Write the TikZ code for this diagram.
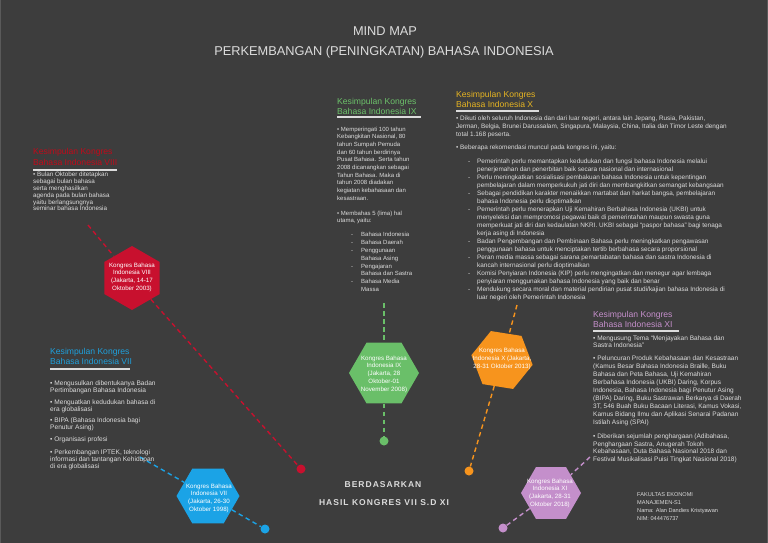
\documentclass[tikz,border=0pt]{standalone}
\usepackage{fontspec}
\setmainfont{Liberation Sans}
\usetikzlibrary{shapes.geometric}
\definecolor{bg}{HTML}{3D3D3D}
\definecolor{txt}{HTML}{DCDCDC}
\definecolor{hred}{HTML}{C8102E}
\definecolor{hgreen}{HTML}{6ABF69}
\definecolor{horange}{HTML}{F7941D}
\definecolor{hcyan}{HTML}{1BA3E6}
\definecolor{hpurple}{HTML}{C48FCB}
\definecolor{tred}{HTML}{C00A1A}
\definecolor{tgreen}{HTML}{6CC16A}
\definecolor{tyellow}{HTML}{E6B422}
\definecolor{tcyan}{HTML}{1EA0DC}
\definecolor{tpurple}{HTML}{C58FCB}
\definecolor{edge}{HTML}{5A5A5A}
\begin{document}
\begin{tikzpicture}[x=1pt,y=-1pt,
  bigtitle/.style={inner sep=0, text=txt, font=\fontsize{12.8}{14}\selectfont},
  ttl/.style={anchor=north west, inner sep=0, align=left, font=\fontsize{8.6}{10}\selectfont},
  body/.style={anchor=north west, inner sep=0, align=left, text=txt, font=\fontsize{6}{7.7}\selectfont},
  uline/.style={draw=txt, line width=1.2pt},
  hexa/.style={regular polygon, regular polygon sides=6, inner sep=0, draw=none, minimum size=#1},
  hextext/.style={inner sep=0, align=center, text=white, font=\fontsize{6.2}{7.7}\selectfont},
  dot/.style={circle, inner sep=0, minimum size=9pt},
  dline/.style={line width=1.4pt, dash pattern=on 4.5pt off 3.5pt},
  bottomtxt/.style={inner sep=0, text=txt, font=\fontsize{8.5}{10}\bfseries\addfontfeatures{LetterSpace=12}\selectfont}
]
\fill[bg] (0,0) rectangle (768,543);
\useasboundingbox (0,0) rectangle (768,543);
\draw[edge, line width=1pt] (0.5,0) -- (0.5,543) (767.5,0) -- (767.5,543);

% titles
\node[bigtitle] (t1) at (385,31) {MIND MAP};
\node[bigtitle] (t2) at (384,52) {PERKEMBANGAN (PENINGKATAN) BAHASA INDONESIA};

% hexagons and dots
\node[hexa=64pt, fill=hred, shape border rotate=30] (hexR) at (132,278) {};
\node[hexa=70pt, fill=hgreen] (hexG) at (384,373) {};
\node[hexa=62pt, fill=horange, shape border rotate=-9] (hexO) at (502,360) {};
\node[hexa=63pt, fill=hcyan] (hexC) at (208,496) {};
\node[hexa=60pt, fill=hpurple] (hexP) at (551,493) {};

\node[dot, fill=hred] (dotR) at (301,469) {};
\node[dot, fill=hgreen] (dotG) at (384,441) {};
\node[dot, fill=horange] (dotO) at (469,471) {};
\node[dot, fill=hcyan] (dotC) at (265,529) {};
\node[dot, fill=hpurple] (dotP) at (503,528) {};

\coordinate (sR) at (88,225);
\coordinate (sG) at (384,303);
\coordinate (sO) at (517,305);
\coordinate (sC) at (140,457);
\coordinate (sP) at (590,457);

\draw[dline, hred] (sR) -- (hexR);
\draw[dline, hred] (hexR) -- (dotR);
\draw[dline, hgreen] (sG) -- (hexG);
\draw[dline, hgreen] (hexG) -- (dotG);
\draw[dline, horange] (sO) -- (hexO);
\draw[dline, horange] (hexO) -- (dotO);
\draw[dline, hcyan] (sC) -- (hexC);
\draw[dline, hcyan] (hexC) -- (dotC);
\draw[dline, hpurple] (sP) -- (hexP);
\draw[dline, hpurple] (hexP) -- (dotP);

\node[hextext] (hexRt) at (132,277) {Kongres Bahasa\\Indonesia VIII\\(Jakarta, 14-17\\Oktober 2003)};
\node[hextext] (hexGt) at (384,374) {Kongres Bahasa\\Indonesia IX\\(Jakarta, 28\\Oktober-01\\November 2008)};
\node[hextext] (hexOt) at (502,359) {Kongres Bahasa\\Indonesia X (Jakarta,\\28-31 Oktober 2013)};
\node[hextext] (hexCt) at (209,498) {Kongres Bahasa\\Indonesia VII\\(Jakarta, 26-30\\Oktober 1998)};
\node[hextext] (hexPt) at (550,493) {Kongres Bahasa\\Indonesia XI\\(Jakarta, 28-31\\Oktober 2018)};

% VIII block
\node[ttl, text=tred, font=\fontsize{8.6}{10.5}\selectfont] (h8) at (33,148.5) {Kesimpulan Kongres\\Bahasa Indonesia VIII};
\draw[uline] (33,170) -- (117,170);
\node[body, font=\fontsize{6.3}{6.9}\selectfont] (b8) at (33,171.7) {• Bulan Oktober ditetapkan\\sebagai bulan bahasa\\serta menghasilkan\\agenda pada bulan bahasa\\yaitu berlangsungnya\\seminar bahasa Indonesia};

% IX block
\node[ttl, text=tgreen] (h9) at (337,98.5) {Kesimpulan Kongres\\Bahasa Indonesia IX};
\draw[uline] (337,117) -- (421,117);
\node[body] (b9a) at (337,126.5) {• Memperingati 100 tahun\\Kebangkitan Nasional, 80\\tahun Sumpah Pemuda\\dan 60 tahun berdirinya\\Pusat Bahasa. Serta tahun\\2008 dicanangkan sebagai\\Tahun Bahasa. Maka di\\tahun 2008 diadakan\\kegiatan kebahasaan dan\\kesastraan.};
\node[body] (b9b) at (337,210.5) {• Membahas 5 (lima) hal\\utama, yaitu:};
\node[body, font=\fontsize{6}{7.9}\selectfont] (b9c) at (351,230.7) {\begin{tabular}{@{}p{10pt}@{}l@{}}
- & Bahasa Indonesia\\
- & Bahasa Daerah\\
- & Penggunaan\\
 & Bahasa Asing\\
- & Pengajaran\\
 & Bahasa dan Sastra\\
- & Bahasa Media\\
 & Massa
\end{tabular}};

% X block
\node[ttl, text=tyellow] (h10) at (456,91.5) {Kesimpulan Kongres\\Bahasa Indonesia X};
\draw[uline] (456,111) -- (539,111);
\node[body, font=\fontsize{6.4}{8}\selectfont] (b10a) at (456,115.8) {• Dikuti oleh seluruh Indonesia dan dari luar negeri, antara lain Jepang, Rusia, Pakistan,\\Jerman, Belgia, Brunei Darussalam, Singapura, Malaysia, China, Italia dan Timor Leste dengan\\total 1.168 peserta.};
\node[body, font=\fontsize{6.4}{8}\selectfont] (b10b) at (456,144.5) {• Beberapa rekomendasi muncul pada kongres ini, yaitu:};
\node[body, font=\fontsize{6.4}{8}\selectfont] (b10c) at (468,157.5) {\begin{tabular}{@{}p{9pt}@{}l@{}}
- & Pemerintah perlu memantapkan kedudukan dan fungsi bahasa Indonesia melalui\\
 & penerjemahan dan penerbitan baik secara nasional dan internasional\\
- & Perlu meningkatkan sosialisasi pembakuan bahasa Indonesia untuk kepentingan\\
 & pembelajaran dalam memperkukuh jati diri dan membangkitkan semangat kebangsaan\\
- & Sebagai pendidikan karakter menaikkan martabat dan harkat bangsa, pembelajaran\\
 & bahasa Indonesia perlu dioptimalkan\\
- & Pemerintah perlu menerapkan Uji Kemahiran Berbahasa Indonesia (UKBI) untuk\\
 & menyeleksi dan mempromosi pegawai baik di pemerintahan maupun swasta guna\\
 & memperkuat jati diri dan kedaulatan NKRI. UKBI sebagai “paspor bahasa” bagi tenaga\\
 & kerja asing di Indonesia\\
- & Badan Pengembangan dan Pembinaan Bahasa perlu meningkatkan pengawasan\\
 & penggunaan bahasa untuk menciptakan tertib berbahasa secara proporsional\\
- & Peran media massa sebagai sarana pemartabatan bahasa dan sastra Indonesia di\\
 & kancah internasional perlu dioptimalkan\\
- & Komisi Penyiaran Indonesia (KIP) perlu mengingatkan dan menegur agar lembaga\\
 & penyiaran menggunakan bahasa Indonesia yang baik dan benar\\
- & Mendukung secara moral dan material pendirian pusat studi/kajian bahasa Indonesia di\\
 & luar negeri oleh Pemerintah Indonesia
\end{tabular}};

% VII block
\node[ttl, text=tcyan, font=\fontsize{8.6}{9.2}\selectfont] (h7) at (50,348.5) {Kesimpulan Kongres\\Bahasa Indonesia VII};
\draw[uline] (50,369) -- (130,369);
\node[body, font=\fontsize{6.6}{7.2}\selectfont] (b7a) at (50,380.5) {• Mengusulkan dibentukanya Badan\\Pertimbangan Bahasa Indonesia};
\node[body, font=\fontsize{6.6}{7.2}\selectfont] (b7b) at (50,399.5) {• Menguatkan kedudukan bahasa di\\era globalisasi};
\node[body, font=\fontsize{6.6}{7.2}\selectfont] (b7c) at (50,417.5) {• BIPA (Bahasa Indonesia bagi\\Penutur Asing)};
\node[body, font=\fontsize{6.6}{7.2}\selectfont] (b7d) at (50,436.5) {• Organisasi profesi};
\node[body, font=\fontsize{6.6}{7.2}\selectfont] (b7e) at (50,449.3) {• Perkembangan IPTEK, teknologi\\informasi dan tantangan Kehidupan\\di era globalisasi};

% XI block
\node[ttl, text=tpurple, font=\fontsize{8.6}{9.2}\selectfont] (h11) at (593,311.5) {Kesimpulan Kongres\\Bahasa Indonesia XI};
\draw[uline] (593,331) -- (679,331);
\node[body, font=\fontsize{6.5}{7.5}\selectfont] (b11a) at (593,335.5) {• Mengusung Tema “Menjayakan Bahasa dan\\Sastra Indonesia”};
\node[body, font=\fontsize{6.5}{8}\selectfont] (b11b) at (593,355.5) {• Peluncuran Produk Kebahasaan dan Kesastraan\\(Kamus Besar Bahasa Indonesia Braille, Buku\\Bahasa dan Peta Bahasa, Uji Kemahiran\\Berbahasa Indonesia (UKBI) Daring, Korpus\\Indonesia, Bahasa Indonesia bagi Penutur Asing\\(BIPA) Daring, Buku Sastrawan Berkarya di Daerah\\3T, 546 Buah Buku Bacaan Literasi, Kamus Vokasi,\\Kamus Bidang Ilmu dan Aplikasi Senarai Padanan\\Istilah Asing (SPAI)};
\node[body, font=\fontsize{6.5}{7.7}\selectfont] (b11c) at (593,433.5) {• Diberikan sejumlah penghargaan (Adibahasa,\\Penghargaan Sastra, Anugerah Tokoh\\Kebahasaan, Duta Bahasa Nasional 2018 dan\\Festival Musikalisasi Puisi Tingkat Nasional 2018)};

% bottom
\node[bottomtxt] (bt1) at (383,485) {BERDASARKAN};
\node[bottomtxt] (bt2) at (384,503) {HASIL KONGRES VII S.D XI};

\node[body, font=\fontsize{5.6}{8}\selectfont] (ft) at (637,492.5) {FAKULTAS EKONOMI\\MANAJEMEN-S1\\Nama: Alan Dandies Kristyawan\\NIM: 044476737};
\end{tikzpicture}
\end{document}
